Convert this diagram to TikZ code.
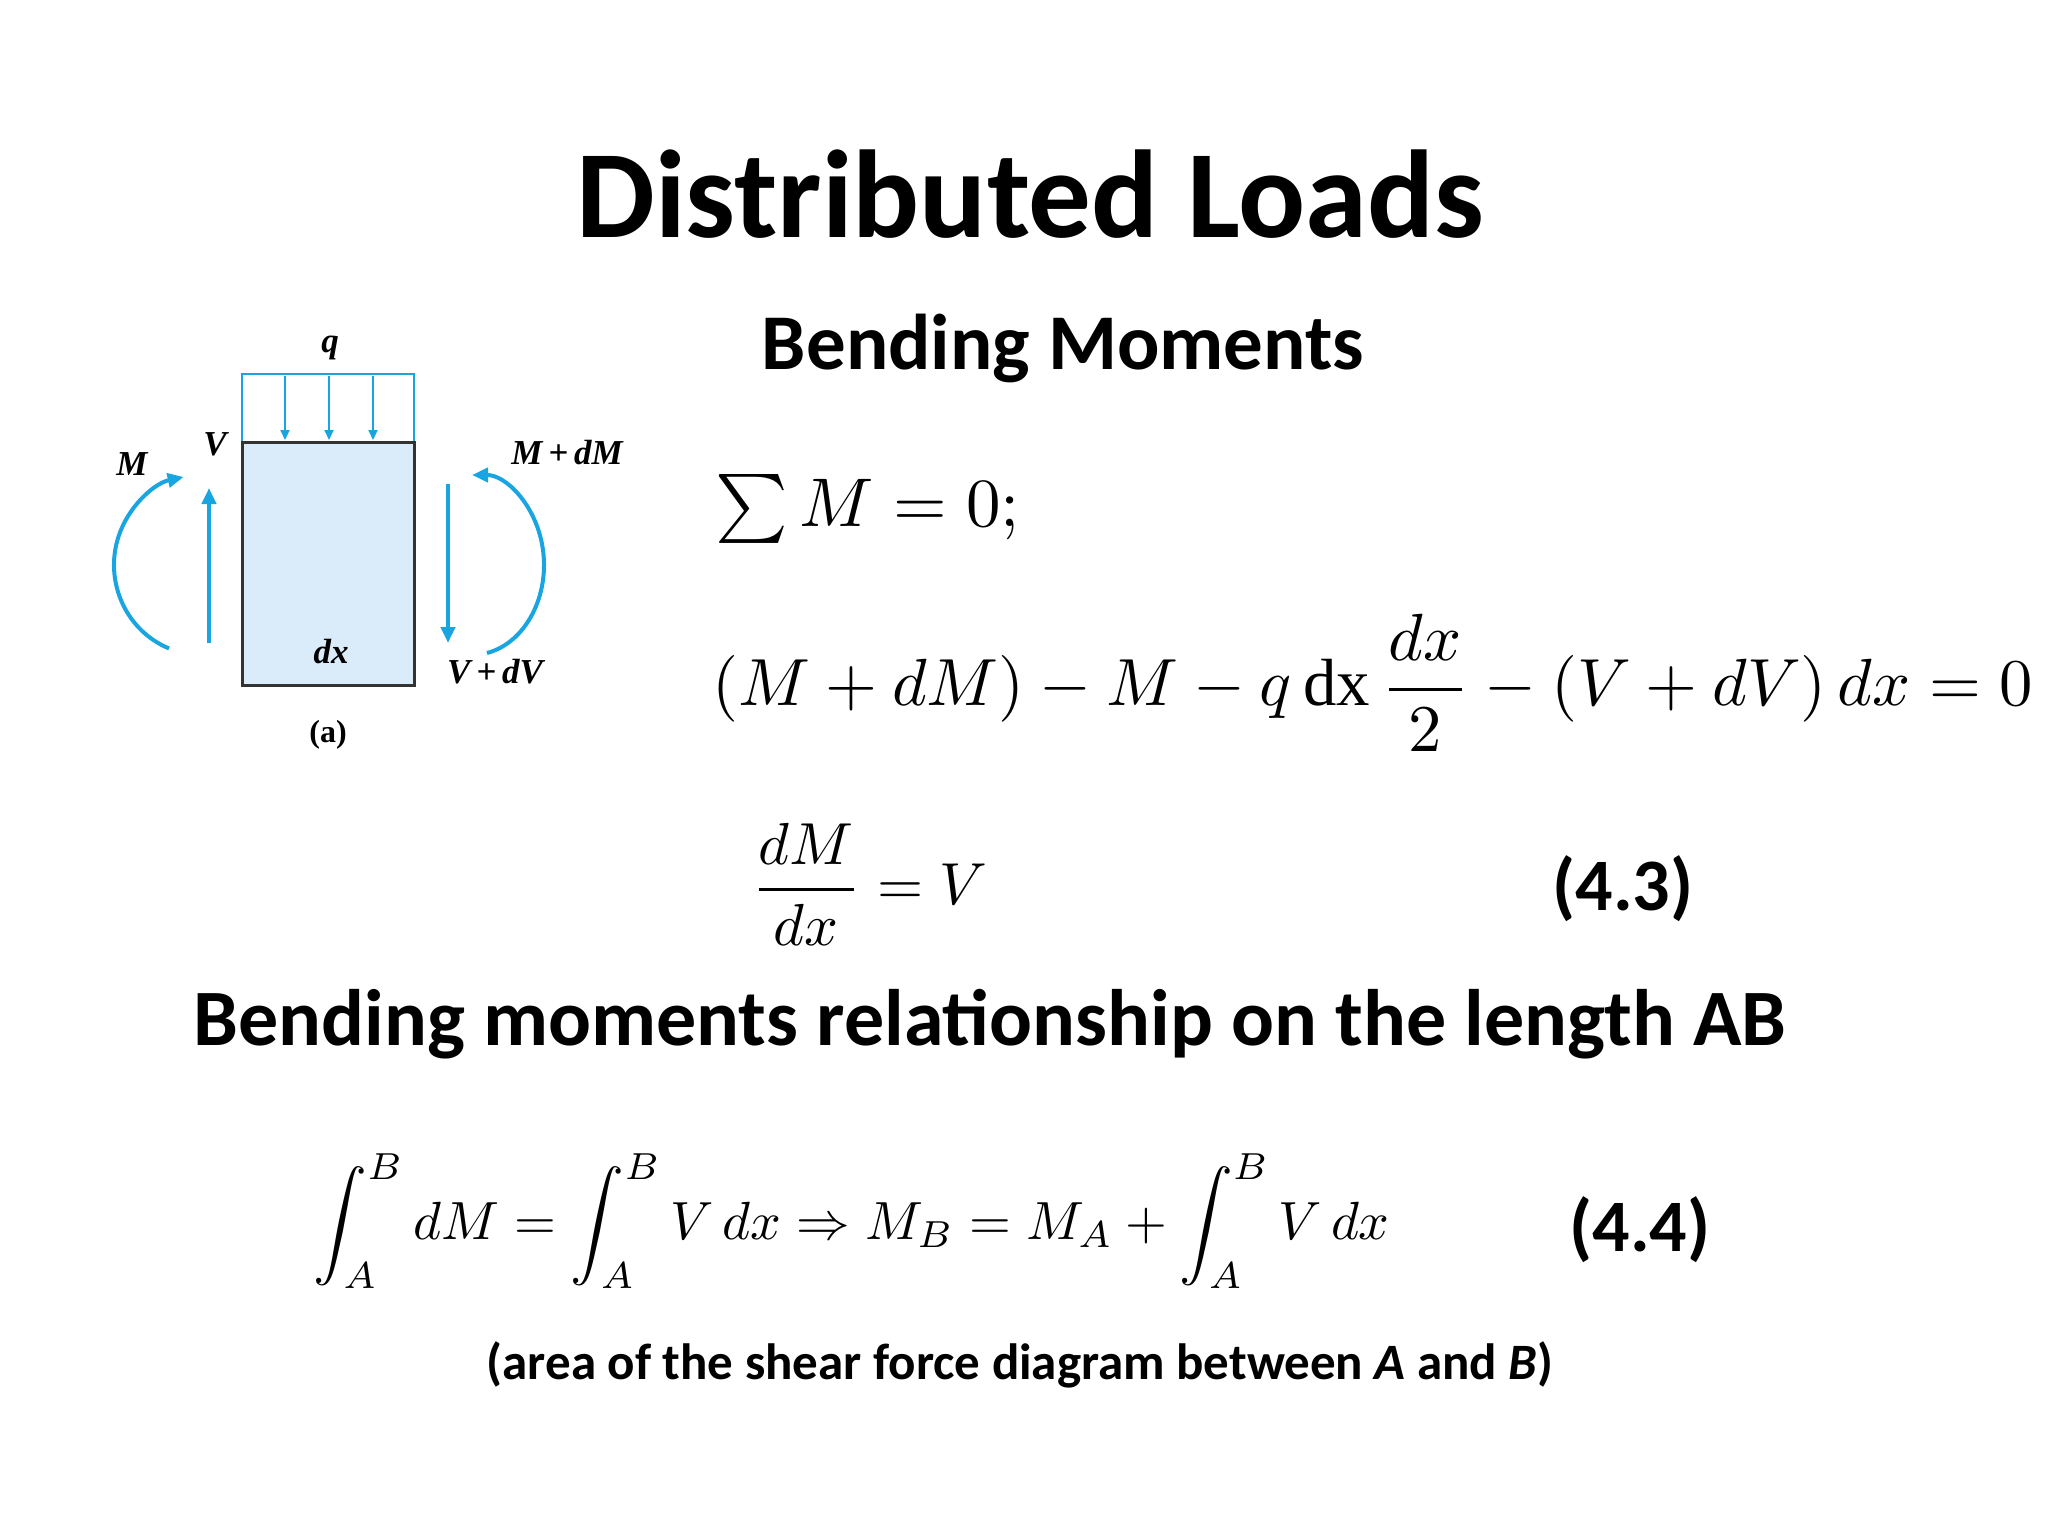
\documentclass[tikz,border=0pt]{standalone}
\usepackage{fontspec}
\usepackage{amsmath,graphicx}
\setmainfont{Carlito}
\newfontfamily\figfont{Liberation Serif}
\usetikzlibrary{arrows.meta}
\definecolor{bl}{RGB}{25,165,225}
\definecolor{fillbl}{RGB}{218,236,250}
\tikzset{
 lbl/.style={font=\figfont\bfseries\itshape\fontsize{35}{35}\selectfont},
 force/.style={bl,line width=4pt,-{Triangle[length=16pt,width=14pt]}},
 load/.style={bl,line width=2.2pt,-{Triangle[length=10pt,width=9pt]}},
 hd/.style={font=\bfseries\fontsize{#1}{#1}\selectfont}
}
\begin{document}
\begin{tikzpicture}[x=1pt,y=-1pt]
\useasboundingbox (0,0) rectangle (2048,1536);
% titles
\node[hd=125] (title) at (1030,194) {Distributed Loads};
\node[hd=79] (bm) at (1063,348) {Bending Moments};
\node[hd=80] (bmr) at (990,1024) {Bending moments relationship on the length AB};
\node[hd=74] (n43) at (1623,889) {(4.3)};
\node[hd=74] (n44) at (1640,1230) {(4.4)};
\node[font=\bfseries\fontsize{51}{51}\selectfont] (cap) at (1020,1365) {(area of the shear force diagram between \textit{A} and \textit{B})};
% equations
\node[anchor=west] (e1) at (712,509) {\resizebox{304pt}{!}{$\sum M=0;$}};
\node[anchor=west] (e2) at (709,683) {\resizebox{1320pt}{!}{$\left(M+dM\right)-M-q\,\text{\figfont dx}\,\dfrac{dx}{2}-\left(V+dV\right)dx=0$}};
\node[anchor=west] (e3) at (748,884) {\resizebox{236pt}{!}{$\dfrac{dM}{dx}=V$}};
\node[anchor=west] (e4) at (310,1221) {\resizebox{1076pt}{!}{$\displaystyle\int_A^B dM=\int_A^B V\,dx\Rightarrow M_B=M_A+\int_A^B V\,dx$}};
% figure
\draw[bl,line width=2.5pt] (242,374) rectangle (414,442);
\draw[fill=fillbl,draw=black!80,line width=3pt] (242,442) rectangle (414,685);
\foreach \x/\n in {285/a,329/b,373/c}{
 \coordinate (t\n) at (\x,376); \coordinate (h\n) at (\x,440);
 \draw[load] (t\n) -- (h\n);}
\coordinate (vb) at (209,643); \coordinate (vt) at (209,488);
\draw[force] (vb) -- (vt);
\coordinate (wt) at (448,484); \coordinate (wb) at (448,643);
\draw[force] (wt) -- (wb);
\coordinate (lc) at (202,565);
\draw[force] ([shift={(112:88 and 90)}]lc) arc[start angle=112,end angle=258,x radius=88,y radius=90];
\coordinate (rc) at (472,565);
\draw[force] ([shift={(78:72 and 90)}]rc) arc[start angle=78,end angle=-90,x radius=72,y radius=90];
\node[lbl] (q) at (330,348) {q};
\node[lbl] (V) at (215,444) {V};
\node[lbl] (M) at (132,464) {M};
\node[lbl] (MdM) at (567,453) {M\,+\,dM};
\node[lbl] (VdV) at (495,672) {V\,+\,dV};
\node[lbl] (dx) at (331,652) {dx};
\node[font=\figfont\bfseries\fontsize{32}{32}\selectfont] (a) at (328,735) {(a)};
\end{tikzpicture}
\end{document}
